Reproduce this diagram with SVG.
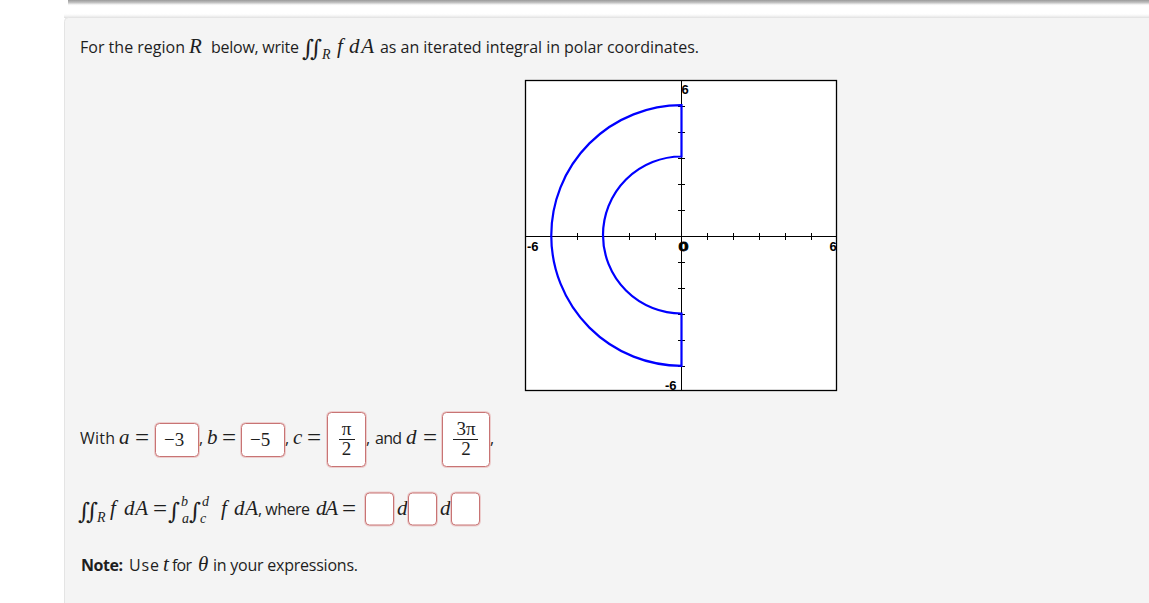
<svg xmlns="http://www.w3.org/2000/svg" width="1149" height="603" viewBox="0 0 1149 603">
<defs>
<linearGradient id="topShadow" x1="0" y1="0" x2="0" y2="1">
<stop offset="0" stop-color="#9a9a9a"/>
<stop offset="0.5" stop-color="#c8c8c8"/>
<stop offset="1" stop-color="#ffffff" stop-opacity="0"/>
</linearGradient>
<linearGradient id="panelShadow" x1="0" y1="0" x2="0" y2="1">
<stop offset="0" stop-color="#ffffff" stop-opacity="0"/>
<stop offset="1" stop-color="#dcdcdc"/>
</linearGradient>
</defs>
<style>
.t{font-family:"Open Sans","Noto Sans",sans-serif;font-size:16px;fill:#1e1e1e}
.b{font-weight:bold}
.m{font-family:"Liberation Serif","DejaVu Serif",serif;font-style:italic;font-size:21px;fill:#1e1e1e}
.n{font-family:"Liberation Serif","DejaVu Serif",serif;font-size:19px;fill:#1e1e1e}
.eq{font-family:"Liberation Serif","DejaVu Serif",serif;font-size:25px;fill:#1e1e1e}
.s{font-family:"Liberation Serif","DejaVu Serif",serif;font-style:italic;font-size:14px;fill:#1e1e1e}
.int{font-family:"DejaVu Serif",serif;font-style:italic;font-size:23px;fill:#1e1e1e}
.box{fill:#ffffff;stroke:#c87474;stroke-width:1}
.glow{fill:none;stroke:#e8b4b4;stroke-width:3;opacity:0.6}
.gl{font-family:"Liberation Sans","DejaVu Sans",sans-serif;font-weight:bold;font-size:13px;fill:#000}
.ax{stroke:#000;stroke-width:1;fill:none}
</style>
<rect x="0" y="0" width="1149" height="603" fill="#ffffff"/>
<rect x="68" y="0" width="1081" height="6" fill="url(#topShadow)"/>
<rect x="64" y="13" width="1085" height="5" fill="url(#panelShadow)"/>
<rect x="64.5" y="17.5" width="1100" height="600" rx="4" fill="#f4f4f4" stroke="#e4e4e4"/>

<g id="question">
<text class="t" x="80" y="53" textLength="105">For the region</text>
<text class="m" x="189" y="53">R</text>
<text class="t" x="211" y="53" textLength="88">below, write</text>
<text class="int" x="302" y="56" letter-spacing="-4">∫∫</text>
<text class="s" x="322" y="59">R</text>
<text class="m" x="337" y="53">f</text>
<text class="m" x="349" y="53" textLength="25">dA</text>
<text class="t" x="380" y="53" textLength="319">as an iterated integral in polar coordinates.</text>
</g>

<g id="graph">
<rect x="525.5" y="80.5" width="311" height="310" fill="#ffffff" stroke="#000" stroke-width="1.3"/>
<line class="ax" x1="525.5" y1="236.5" x2="836.5" y2="236.5"/>
<line class="ax" x1="681.5" y1="80.5" x2="681.5" y2="390.5"/>
<path class="ax" d="M551.5 233v7M577.5 233v7M603.5 233v7M629.5 233v7M655.5 233v7M707.5 233v7M733.5 233v7M759.5 233v7M785.5 233v7M811.5 233v7M678 106.5h7M678 132.5h7M678 158.5h7M678 184.5h7M678 210.5h7M678 262.5h7M678 288.5h7M678 314.5h7M678 340.5h7M678 366.5h7"/>
<path d="M681.5 105.2 A130.3 130.3 0 0 0 681.5 365.8 L681.5 313.5 A78.5 78.5 0 0 1 681.5 156.5 Z" fill="none" stroke="#0000ff" stroke-width="2.2" stroke-linejoin="miter"/>
<text class="gl" x="681.5" y="94">6</text>
<text class="gl" x="527" y="251">-6</text>
<text class="gl" x="678.5" y="251" stroke="#000" stroke-width="0.8" textLength="10" lengthAdjust="spacingAndGlyphs">0</text>
<text class="gl" x="829.5" y="251">6</text>
<text class="gl" x="665" y="390">-6</text>
</g>

<g id="limits">
<text class="t" x="80" y="444" textLength="35">With</text>
<text class="m" x="119" y="444">a</text>
<text class="eq" x="135" y="446">=</text>
<g id="box-a">
<rect class="glow" x="155.5" y="423.5" width="43" height="33" rx="4"/>
<rect class="box" x="155.5" y="423.5" width="43" height="33" rx="4"/>
<text class="n" x="164" y="446" font-size="20">−3</text>
</g>
<text class="t" x="199" y="444">,</text>
<text class="m" x="207" y="444">b</text>
<text class="eq" x="222" y="446">=</text>
<g id="box-b">
<rect class="glow" x="241.5" y="423.5" width="43" height="33" rx="4"/>
<rect class="box" x="241.5" y="423.5" width="43" height="33" rx="4"/>
<text class="n" x="250" y="446" font-size="20">−5</text>
</g>
<text class="t" x="285" y="444">,</text>
<text class="m" x="293" y="444">c</text>
<text class="eq" x="307" y="446">=</text>
<g id="box-c">
<rect class="glow" x="327.5" y="412.5" width="38" height="54" rx="4"/>
<rect class="box" x="327.5" y="412.5" width="38" height="54" rx="4"/>
<text class="n" x="346.5" y="435" text-anchor="middle" font-size="17">π</text>
<line x1="339" y1="439.5" x2="355" y2="439.5" stroke="#1e1e1e" stroke-width="1"/>
<text class="n" x="346.5" y="455" text-anchor="middle" font-size="17">2</text>
</g>
<text class="t" x="366" y="444">,</text>
<text class="t" x="375" y="444" textLength="27">and</text>
<text class="m" x="406" y="444">d</text>
<text class="eq" x="423" y="446">=</text>
<g id="box-d">
<rect class="glow" x="442.5" y="412.5" width="47" height="54" rx="4"/>
<rect class="box" x="442.5" y="412.5" width="47" height="54" rx="4"/>
<text class="n" x="466" y="435" text-anchor="middle" font-size="17">3π</text>
<line x1="453" y1="439.5" x2="478" y2="439.5" stroke="#1e1e1e" stroke-width="1"/>
<text class="n" x="466" y="455" text-anchor="middle" font-size="17">2</text>
</g>
<text class="t" x="490" y="444">,</text>
</g>

<g id="integral">
<text class="int" x="78" y="519" letter-spacing="-4">∫∫</text>
<text class="s" x="97" y="522">R</text>
<text class="m" x="110" y="515">f</text>
<text class="m" x="124" y="515" textLength="24">dA</text>
<text class="eq" x="153" y="517">=</text>
<text class="int" x="168" y="519">∫</text>
<text class="s" x="181" y="506">b</text>
<text class="s" x="182" y="523">a</text>
<text class="int" x="189" y="519">∫</text>
<text class="s" x="202" y="506">d</text>
<text class="s" x="200" y="523">c</text>
<text class="m" x="221" y="515">f</text>
<text class="m" x="234" y="515" textLength="24">dA</text>
<text class="t" x="258" y="515" textLength="52">, where</text>
<text class="m" x="316" y="515" textLength="22">dA</text>
<text class="eq" x="342" y="517">=</text>
<g id="box-1">
<rect class="glow" x="365.5" y="493" width="28" height="32" rx="4"/>
<rect class="box" x="365.5" y="493" width="28" height="32" rx="4"/>
</g>
<text class="m" x="397" y="515">d</text>
<g id="box-2">
<rect class="glow" x="408.5" y="493" width="28" height="32" rx="4"/>
<rect class="box" x="408.5" y="493" width="28" height="32" rx="4"/>
</g>
<text class="m" x="440" y="515">d</text>
<g id="box-3">
<rect class="glow" x="451.5" y="493" width="28" height="32" rx="4"/>
<rect class="box" x="451.5" y="493" width="28" height="32" rx="4"/>
</g>
</g>

<g id="note">
<text class="t b" x="81" y="571" textLength="42">Note:</text>
<text class="t" x="129" y="571" textLength="30">Use</text>
<text class="m" x="163" y="571">t</text>
<text class="t" x="172" y="571" textLength="20">for</text>
<text class="m" x="198" y="571">θ</text>
<text class="t" x="213" y="571" textLength="145">in your expressions.</text>
</g>
</svg>
